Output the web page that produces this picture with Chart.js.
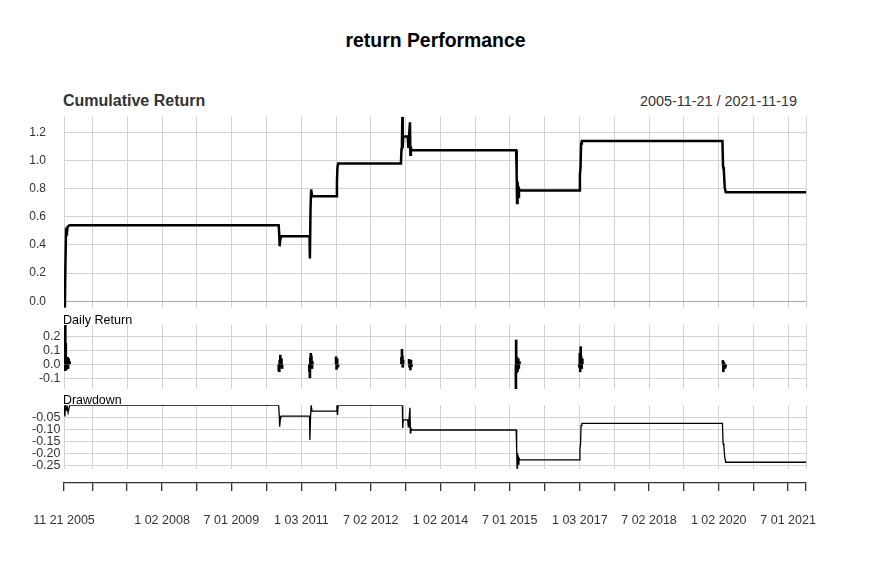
<!DOCTYPE html>
<html lang="en">
<head>
<meta charset="UTF-8">
<title>return Performance</title>
<script src="https://cdn.jsdelivr.net/npm/chart.js"></script>
<style>
  body { margin: 0; background: #fff; font-family: "Liberation Sans", Arial, sans-serif; }
  #page { position: relative; width: 871px; height: 571px; overflow: hidden; }
  .box { position: absolute; left: 0; width: 871px; }
  .lbl { position: absolute; line-height: 1; white-space: nowrap; z-index: 2; }
</style>
</head>
<body>
<div id="page">
  <div class="box" style="top:110px;height:198px"><canvas id="cumChart"></canvas></div>
  <div class="box" style="top:315px;height:84px"><canvas id="retChart"></canvas></div>
  <div class="box" style="top:395px;height:84px"><canvas id="ddChart"></canvas></div>
  <div class="box" style="top:473px;height:70px"><canvas id="axisChart"></canvas></div>

  <div class="lbl" style="left:0;width:871px;text-align:center;top:31px;font-weight:bold;font-size:19.4px;color:#000">return Performance</div>
  <div class="lbl" style="left:63px;top:92.5px;font-weight:bold;font-size:16px;color:#333">Cumulative Return</div>
  <div class="lbl" style="right:74px;top:93.5px;font-size:14.4px;color:#333">2005-11-21 / 2021-11-19</div>
  <div class="lbl" style="left:63px;top:314.2px;font-size:12.6px;color:#000">Daily Return</div>
  <div class="lbl" style="left:63px;top:393.6px;font-size:12.4px;color:#000">Drawdown</div>
</div>
<script>
// period shown
const startDate = '2005-11-21';
const endDate = '2021-11-19';

// vertical grid / x ticks (every 9 months) and their labels
const gridDates = ['2005-11-21', '2006-07-03', '2007-04-02', '2008-01-02', '2008-10-01', '2009-07-01',
    '2010-04-01', '2011-01-03', '2011-10-03', '2012-07-02', '2013-04-01', '2014-01-02', '2014-10-01',
    '2015-07-01', '2016-04-01', '2017-01-03', '2017-10-02', '2018-07-02', '2019-04-01', '2020-01-02',
    '2020-10-01', '2021-07-01', '2021-11-19'];
const gridLabels = ['11 21 2005', '', '', '1 02 2008', '', '7 01 2009',
    '', '1 03 2011', '', '7 02 2012', '', '1 02 2014', '',
    '7 01 2015', '', '1 03 2017', '', '7 02 2018', '', '1 02 2020',
    '', '7 01 2021', ''];

// y ticks per panel
const cumTicks = [0.0, 0.2, 0.4, 0.6, 0.8, 1.0, 1.2];
const retTicks = [-0.1, 0.0, 0.1, 0.2];
const ddTicks = [-0.25, -0.20, -0.15, -0.10, -0.05];

// cumulative return
const cumDates = ['2005-11-21', '2005-11-28', '2005-12-02', '2005-12-07', '2005-12-14', '2005-12-20', '2006-01-04',
    '2010-07-08', '2010-07-13', '2010-07-16', '2010-07-21', '2010-07-28',
    '2011-03-08', '2011-03-11', '2011-03-16', '2011-03-21', '2011-03-28',
    '2011-10-04', '2011-10-10', '2011-10-14', '2011-10-20',
    '2013-02-25', '2013-03-01', '2013-03-05', '2013-03-08', '2013-03-11', '2013-03-15',
    '2013-04-19', '2013-04-24', '2013-04-29', '2013-05-07', '2013-05-10', '2013-05-14', '2013-05-20',
    '2015-08-21', '2015-08-25', '2015-08-28', '2015-09-01', '2015-09-07', '2015-09-12', '2015-09-18',
    '2016-12-30', '2017-01-04', '2017-01-09', '2017-01-13', '2017-01-19',
    '2020-01-31', '2020-02-05', '2020-02-11', '2020-02-18', '2020-02-26', '2021-11-19'];
const cumValues = [0.0, -0.045, 0.25, 0.50, 0.49, 0.53, 0.54,
    0.54, 0.47, 0.39, 0.44, 0.462,
    0.462, 0.303, 0.66, 0.793, 0.746,
    0.746, 0.85, 0.95, 0.978,
    0.978, 1.08, 1.15, 1.31, 1.09, 1.17,
    1.17, 1.095, 1.17, 1.27, 1.04, 1.09, 1.072,
    1.072, 0.90, 0.698, 0.85, 0.74, 0.80, 0.786,
    0.786, 0.90, 0.95, 1.12, 1.138,
    1.138, 0.954, 0.93, 0.81, 0.774, 0.774];

// daily returns
const retDates = ['2005-11-28', '2005-12-01', '2005-12-05', '2005-12-09', '2005-12-20', '2005-12-23', '2005-12-28', '2006-01-04',
    '2010-07-09', '2010-07-13', '2010-07-16', '2010-07-21', '2010-07-26', '2010-07-30', '2010-08-04',
    '2011-03-07', '2011-03-11', '2011-03-15', '2011-03-18', '2011-03-23', '2011-03-28', '2011-03-31',
    '2011-10-03', '2011-10-07', '2011-10-12', '2011-10-18',
    '2013-03-01', '2013-03-05', '2013-03-08', '2013-03-11', '2013-03-14',
    '2013-04-30', '2013-05-03', '2013-05-07', '2013-05-10', '2013-05-15', '2013-05-20',
    '2015-08-19', '2015-08-21', '2015-08-25', '2015-08-28', '2015-09-02', '2015-09-07', '2015-09-11', '2015-09-16',
    '2016-12-30', '2017-01-03', '2017-01-06', '2017-01-10', '2017-01-13', '2017-01-18', '2017-01-23',
    '2020-02-04', '2020-02-07', '2020-02-12', '2020-02-18', '2020-02-25'];
const retValues = [-0.045, 0.28, 0.15, -0.04, 0.05, -0.03, 0.04, 0.02,
    -0.045, -0.053, 0.03, 0.066, -0.02, 0.04, -0.03,
    -0.05, -0.096, 0.05, 0.079, 0.06, -0.03, 0.02,
    0.054, -0.036, 0.04, -0.02,
    0.05, 0.107, 0.06, -0.021, 0.03,
    0.036, -0.02, 0.03, -0.04, 0.03, -0.015,
    -0.174, 0.174, -0.06, 0.05, -0.05, 0.04, -0.03, 0.02,
    -0.02, 0.08, -0.053, 0.126, 0.06, -0.03, 0.04,
    0.028, -0.053, 0.015, -0.03, -0.02];

// drawdown
const ddDates = ['2005-11-21', '2005-11-28', '2005-12-02', '2005-12-09', '2005-12-14', '2005-12-23', '2006-01-04',
    '2010-07-08', '2010-07-13', '2010-07-16', '2010-07-21', '2010-07-28',
    '2011-03-08', '2011-03-11', '2011-03-16', '2011-03-21', '2011-03-28',
    '2011-10-04', '2011-10-10', '2011-10-14', '2011-10-20',
    '2013-02-25', '2013-03-08', '2013-03-11', '2013-03-15',
    '2013-04-19', '2013-04-24', '2013-04-29', '2013-05-07', '2013-05-10', '2013-05-14', '2013-05-20',
    '2015-08-21', '2015-08-25', '2015-08-28', '2015-09-01', '2015-09-07', '2015-09-12', '2015-09-18',
    '2016-12-30', '2017-01-04', '2017-01-09', '2017-01-13', '2017-01-19',
    '2020-01-31', '2020-02-05', '2020-02-11', '2020-02-18', '2020-02-26', '2021-11-19'];
const ddValues = [0, -0.047, 0, -0.02, 0, -0.03, 0,
    0, -0.045, -0.089, -0.06, -0.045,
    -0.045, -0.145, -0.05, 0, -0.024,
    -0.024, 0, -0.04, 0,
    0, 0, -0.095, -0.061,
    -0.061, -0.09, -0.061, -0.01, -0.115, -0.095, -0.103,
    -0.103, -0.18, -0.262, -0.20, -0.245, -0.22, -0.228,
    -0.228, -0.18, -0.16, -0.085, -0.075,
    -0.075, -0.158, -0.17, -0.215, -0.2375, -0.2375];

const FONT = '"Liberation Sans", Arial, sans-serif';
const ts = d => new Date(d + 'T00:00:00Z').getTime();
const points = (dates, vals) => dates.map((d, i) => ({ x: ts(d), y: vals[i] }));

function panelX() {
    return {
        type: 'linear',
        min: ts(startDate),
        max: ts(endDate),
        offset: false,
        afterBuildTicks: s => { s.ticks = gridDates.map(d => ({ value: ts(d) })); },
        ticks: { display: false },
        grid: { color: '#d3d3d3', lineWidth: 1, drawTicks: false, offset: false },
        border: { display: false },
        afterFit: s => { s.height = 0; s.paddingLeft = 0; s.paddingRight = 0; }
    };
}

function panelY(min, max, tickVals, digits, pad, size, zeroColor) {
    return {
        min: min,
        max: max,
        afterBuildTicks: s => { s.ticks = tickVals.map(v => ({ value: v })); },
        ticks: {
            callback: v => Number(v).toFixed(digits),
            autoSkip: false,
            color: '#333',
            font: { family: FONT, size: size },
            padding: pad
        },
        grid: {
            color: ctx => (zeroColor && ctx.tick && ctx.tick.value === 0) ? zeroColor : '#d3d3d3',
            lineWidth: 1,
            drawTicks: false
        },
        border: { display: false },
        // fixed width, no extra label padding so the plot box is set by layout padding
        afterFit: s => { s.width = 64; s.paddingTop = 0; s.paddingBottom = 0; }
    };
}

const common = {
    responsive: true,
    maintainAspectRatio: false,
    animation: false,
    plugins: { legend: { display: false }, tooltip: { enabled: false } }
};

new Chart(document.getElementById('cumChart'), {
    type: 'line',
    data: {
        datasets: [{
            data: points(cumDates, cumValues),
            borderColor: '#000',
            borderWidth: 2.5,
            pointRadius: 0,
            tension: 0
        }]
    },
    options: {
        ...common,
        layout: { padding: { left: 0, right: 65, top: 6.7, bottom: 0 } },
        scales: {
            x: panelX(),
            y: panelY(-0.048, 1.31, cumTicks, 1, 18, 12, '#a6a6a6')
        }
    }
});

new Chart(document.getElementById('retChart'), {
    type: 'bar',
    data: {
        datasets: [{
            data: points(retDates, retValues),
            backgroundColor: '#000',
            borderWidth: 0,
            barThickness: 2
        }]
    },
    options: {
        ...common,
        layout: { padding: { left: 0, right: 65, top: 10, bottom: 10 } },
        scales: {
            x: panelX(),
            y: panelY(-0.176, 0.281, retTicks, 1, 3.5, 12.5, null)
        }
    }
});

new Chart(document.getElementById('ddChart'), {
    type: 'line',
    data: {
        datasets: [{
            data: points(ddDates, ddValues),
            borderColor: '#000',
            borderWidth: 1.3,
            pointRadius: 0,
            tension: 0
        }]
    },
    options: {
        ...common,
        layout: { padding: { left: 0, right: 65, top: 10.3, bottom: 9.7 } },
        scales: {
            x: panelX(),
            y: panelY(-0.267, 0, ddTicks, 2, 3.5, 12.5, null)
        }
    }
});

// shared date axis under the panels
new Chart(document.getElementById('axisChart'), {
    type: 'line',
    data: { datasets: [] },
    options: {
        ...common,
        layout: { padding: { left: 64, right: 65, top: 0, bottom: 0 } },
        scales: {
            x: {
                type: 'linear',
                min: ts(startDate),
                max: ts(endDate),
                afterBuildTicks: s => { s.ticks = gridDates.map(d => ({ value: ts(d) })); },
                ticks: {
                    callback: (v, i) => gridLabels[i],
                    autoSkip: false,
                    maxRotation: 0,
                    padding: 22,
                    color: '#333',
                    font: { family: FONT, size: 12.5 }
                },
                grid: { drawOnChartArea: false, drawTicks: true, tickLength: 8, color: '#333', lineWidth: 1.3 },
                border: { display: true, color: '#333', width: 1.3 },
                afterFit: s => { s.height = 60; s.paddingLeft = 0; s.paddingRight = 0; }
            },
            y: { display: false, min: 0, max: 1 }
        }
    }
});
</script>
</body>
</html>
